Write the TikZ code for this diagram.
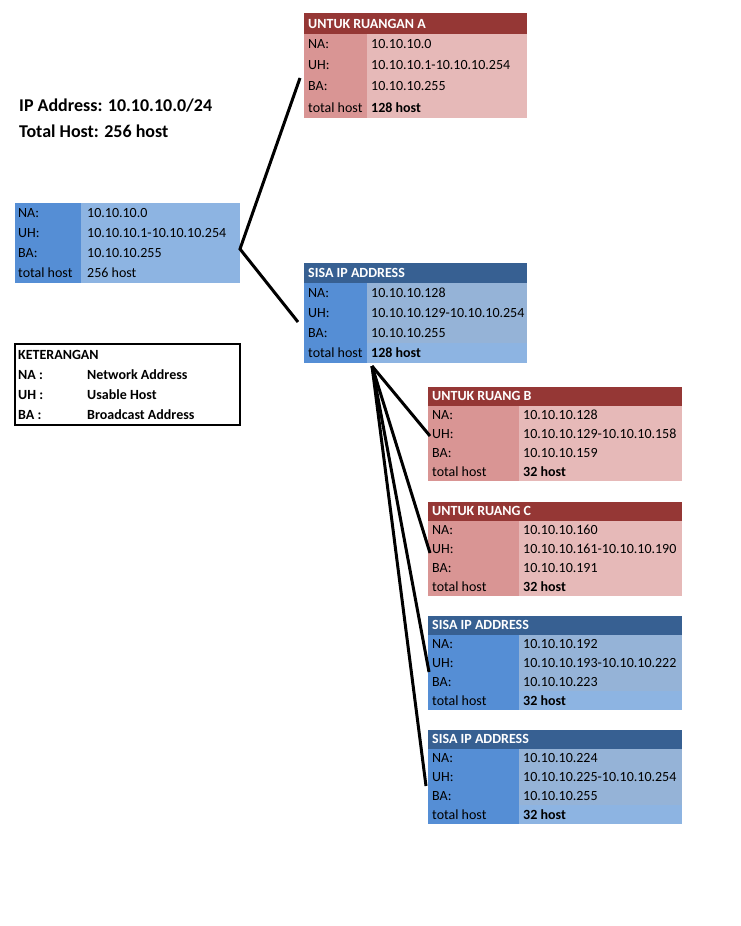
\documentclass[tikz,border=0pt]{standalone}
\usepackage{fontspec}
\setmainfont{Carlito}
\begin{document}
\begin{tikzpicture}[x=1pt,y=-1pt,font=\fontsize{14}{16}\selectfont,
  cell/.style={anchor=west,inner sep=0pt},
  hdrtxt/.style={cell,text=white,font=\fontsize{14}{16}\selectfont\bfseries},
  conn/.style={line width=3pt,black}]
\definecolor{rhdr}{HTML}{953735}\definecolor{rlab}{HTML}{D99594}\definecolor{rval}{HTML}{E6B9B8}
\definecolor{bhdr}{HTML}{376092}\definecolor{blab}{HTML}{558ED5}\definecolor{bval}{HTML}{95B3D7}\definecolor{btot}{HTML}{8DB4E2}
\useasboundingbox (0,0) rectangle (740,926);
% #1 name #2 x0 #3 xs #4 x1 #5 ytop #6 rh #7 header #8 NA #9 UH ; \baval \totval ; colors hdr lab val tot
\newcommand\ipbox[9]{%
  \fill[hdr] (#2,#5) rectangle (#4,#5+#6);
  \fill[lab] (#2,#5+#6) rectangle (#3,#5+5*#6);
  \fill[val] (#3,#5+#6) rectangle (#4,#5+4*#6);
  \fill[tot] (#3,#5+4*#6) rectangle (#4,#5+5*#6);
  \node[hdrtxt] (#1h) at (#2+4,#5+0.5*#6) {#7};
  \node[cell] (#1na) at (#2+4,#5+1.5*#6) {NA:};
  \node[cell] (#1uh) at (#2+4,#5+2.5*#6) {UH:};
  \node[cell] (#1ba) at (#2+4,#5+3.5*#6) {BA:};
  \node[cell] (#1th) at (#2+4,#5+4.5*#6) {total host};
  \node[cell] (#1nav) at (#3+4,#5+1.5*#6) {#8};
  \node[cell] (#1uhv) at (#3+4,#5+2.5*#6) {#9};
  \node[cell] (#1bav) at (#3+4,#5+3.5*#6) {\baval};
  \node[cell,font=\fontsize{14}{16}\selectfont\bfseries] (#1thv) at (#3+4,#5+4.5*#6) {\totval};
}
% titles
\node[cell,font=\fontsize{18}{20}\selectfont\bfseries] (t1) at (19,106) {IP Address: 10.10.10.0/24};
\node[cell,font=\fontsize{18}{20}\selectfont\bfseries] (t2) at (19,131) {Total Host: 256 host};
% main box
\fill[blab] (15,203) rectangle (81,283);
\fill[btot] (81,203) rectangle (240,283);
\node[cell] (mna) at (18,213) {NA:};
\node[cell] (muh) at (18,233) {UH:};
\node[cell] (mba) at (18,253) {BA:};
\node[cell] (mth) at (18,273) {total host};
\node[cell] (mnav) at (87,213) {10.10.10.0};
\node[cell] (muhv) at (87,233) {10.10.10.1-10.10.10.254};
\node[cell] (mbav) at (87,253) {10.10.10.255};
\node[cell] (mthv) at (87,273) {256 host};
% keterangan
\draw[line width=2pt] (15,344) rectangle (240,425);
\begin{scope}[every node/.style={cell,font=\fontsize{14}{16}\selectfont\bfseries}]
\node (k0) at (18,355) {KETERANGAN};
\node (k1) at (18,375) {NA :};\node (k1v) at (87,375) {Network Address};
\node (k2) at (18,395) {UH :};\node (k2v) at (87,395) {Usable Host};
\node (k3) at (18,415) {BA :};\node (k3v) at (87,415) {Broadcast Address};
\end{scope}
% red boxes
\colorlet{hdr}{rhdr}\colorlet{lab}{rlab}\colorlet{val}{rval}\colorlet{tot}{rval}
\def\baval{10.10.10.255}\def\totval{128 host}
\ipbox{a}{304}{367}{527}{13}{21}{UNTUK RUANGAN A}{10.10.10.0}{10.10.10.1-10.10.10.254}
\def\baval{10.10.10.159}\def\totval{32 host}
\ipbox{b}{428}{519}{682}{387}{18.8}{UNTUK RUANG B}{10.10.10.128}{10.10.10.129-10.10.10.158}
\def\baval{10.10.10.191}
\ipbox{c}{428}{519}{682}{502}{18.8}{UNTUK RUANG C}{10.10.10.160}{10.10.10.161-10.10.10.190}
% blue boxes
\colorlet{hdr}{bhdr}\colorlet{lab}{blab}\colorlet{val}{bval}\colorlet{tot}{btot}
\def\baval{10.10.10.255}\def\totval{128 host}
\ipbox{s}{304}{367}{527}{263}{20}{SISA IP ADDRESS}{10.10.10.128}{10.10.10.129-10.10.10.254}
\def\baval{10.10.10.223}\def\totval{32 host}
\ipbox{d}{428}{519}{682}{616}{18.8}{SISA IP ADDRESS}{10.10.10.192}{10.10.10.193-10.10.10.222}
\def\baval{10.10.10.255}
\ipbox{e}{428}{519}{682}{730}{18.8}{SISA IP ADDRESS}{10.10.10.224}{10.10.10.225-10.10.10.254}
% connectors
\coordinate (mR) at (240,249);
\coordinate (aL) at (300,78);
\coordinate (sL) at (298,322);
\coordinate (sB) at (372,366);
\coordinate (bL) at (430,436);
\coordinate (cL) at (430,553);
\coordinate (dL) at (429,672);
\coordinate (eL) at (426,786);
\draw[conn] (aL) -- (mR) -- (sL);
\draw[conn] (sB) -- (bL);
\draw[conn] (sB) -- (cL);
\draw[conn] (sB) -- (dL);
\draw[conn] (sB) -- (eL);
\end{tikzpicture}
\end{document}
